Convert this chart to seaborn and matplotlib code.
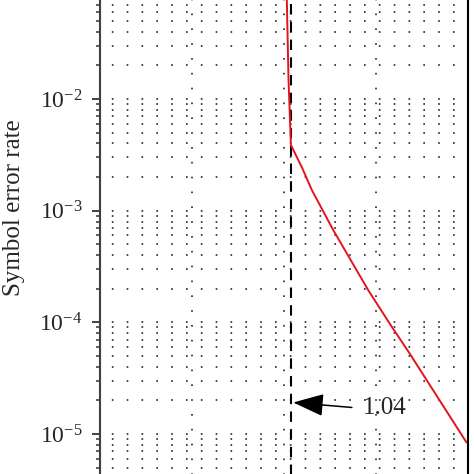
import matplotlib
matplotlib.use('Agg')
import matplotlib.pyplot as plt
import seaborn as sns

# values
snr = [1.0165, 1.026, 1.039, 1.044, 1.070, 1.100, 1.153, 1.270, 1.460, 1.577, 1.686, 1.995]
ser = [8.0e-2, 1.48e-2, 3.86e-3, 3.73e-3, 3.05e-3, 2.42e-3, 1.53e-3, 6.68e-4, 1.94e-4, 9.73e-5, 5.24e-5, 8.39e-6]
threshold = 1.04
threshold_label = '1.04'
x_ticks = [0, 0.5, 1.0, 1.5, 2.0]
y_ticks = [1e-5, 1e-4, 1e-3, 1e-2]

sns.set_style('ticks')
plt.rcParams['font.family'] = ['Liberation Serif', 'DejaVu Serif']
plt.rcParams['mathtext.fontset'] = 'stix'

W = 474.0
fig = plt.figure(figsize=(4.74, 4.74), dpi=100)
# the reference is a crop: axes run past the top and bottom edges
ax = fig.add_axes([100 / W, (W - 545.7) / W, 367.5 / W, 558.3 / W])

sns.lineplot(x=snr, y=ser, ax=ax, color='#e3141e', lw=1.4, zorder=4)
ax.set_yscale('log')
ax.set_ylim(1e-6, 1e-1)
ax.set_xlim(0, 2)
ax.set_xticks(x_ticks)
ax.set_yticks(y_ticks)

ax.axvline(threshold, color='black', lw=1.5, ls=(0, (5, 3.5)), zorder=3)

dots = dict(color='0.15', lw=1.2)
ax.grid(which='major', axis='x', ls=(0, (1, 7.9)), **dots)
ax.grid(which='both', axis='y', ls=(1.8, (1, 7.9)), **dots)

ax.tick_params(axis='y', which='major', length=5.8, width=1.3, direction='out',
               labelsize=17, pad=7, color='0.2')
ax.tick_params(axis='y', which='minor', length=3.2, width=1.1, direction='out', color='0.2')
ax.tick_params(axis='x', which='both', bottom=False, labelbottom=False)

for side in ['left', 'right']:
    ax.spines[side].set_linewidth(1.5)
ax.spines['left'].set_color('0.25')
ax.spines['right'].set_color('black')

ax.set_ylabel('Symbol error rate', fontsize=18)
ax.yaxis.set_label_coords(-0.204, 0.605)

ax.annotate('', xy=(1.0515, 10 ** -4.7175), xytext=(1.371, 10 ** -4.762),
            arrowprops=dict(arrowstyle='-|>,head_length=0.95,head_width=0.35',
                            color='black', lw=1.1, mutation_scale=20,
                            shrinkA=0, shrinkB=0), zorder=5)
ax.text(1.431, 10 ** -4.771, threshold_label, fontsize=18, ha='left', va='center')

fig.savefig('out.png', dpi=100)
